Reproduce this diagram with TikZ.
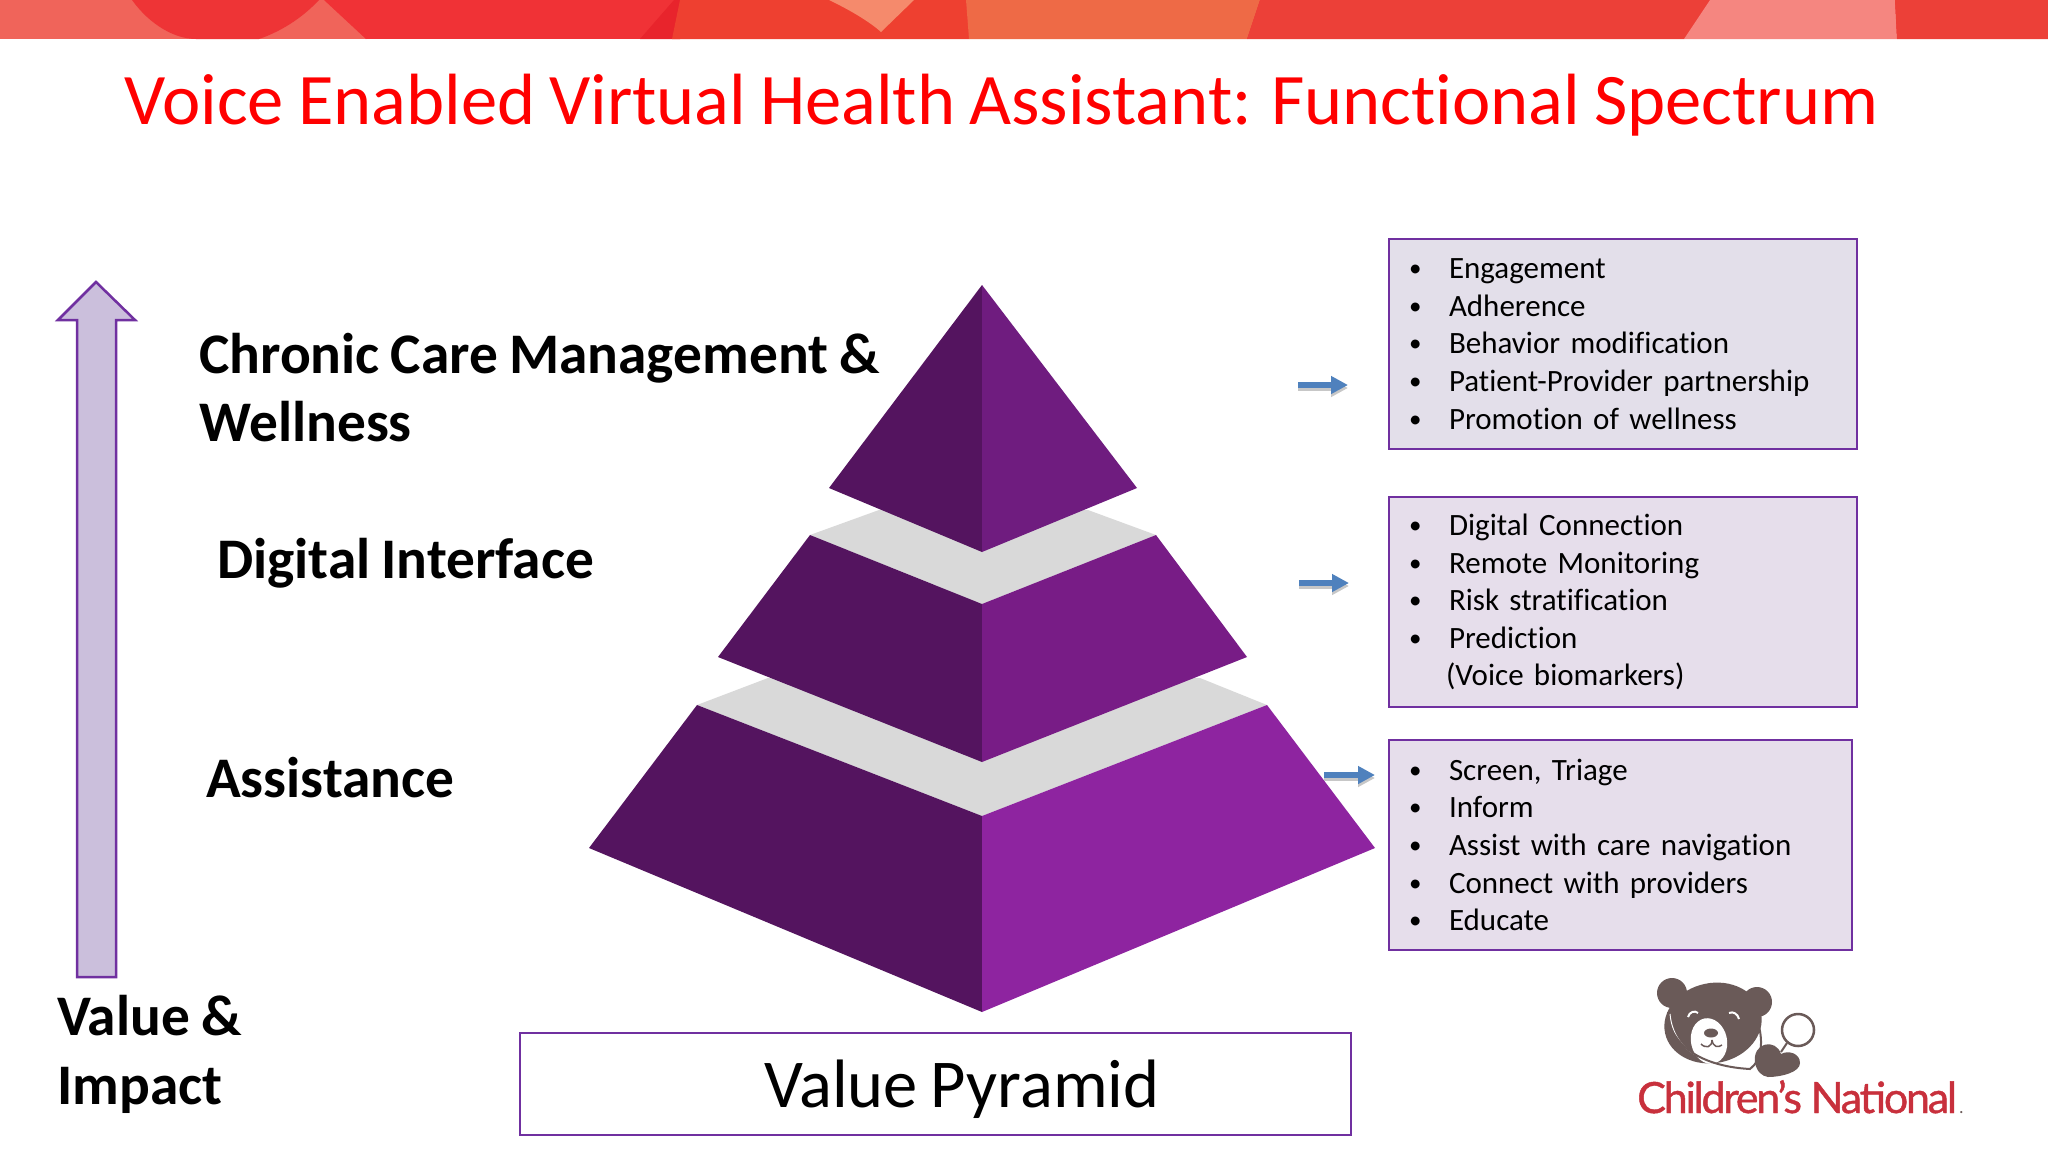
\documentclass[tikz,border=0pt]{standalone}
\usepackage{fontspec}
\setmainfont{Carlito}[Ligatures=NoCommon,WordSpace=0.85]
\newfontfamily\logofont{Lato}[FakeBold=1,LetterSpace=-5.2]
\usetikzlibrary{arrows.meta,positioning}
\definecolor{pyrborder}{HTML}{7030A0}
\definecolor{pyrdark}{HTML}{54145F}
\definecolor{pyrtop}{HTML}{6F1C7F}
\definecolor{pyrmid}{HTML}{781C86}
\definecolor{pyrlow}{HTML}{8E24A0}
\definecolor{pyrgrey}{HTML}{D9D9D9}
\definecolor{boxone}{HTML}{E3DFEA}
\definecolor{boxtwo}{HTML}{E6DEEB}
\definecolor{bigarrow}{HTML}{CBBFDC}
\definecolor{bluearrow}{HTML}{4F81BD}
\definecolor{bearbrown}{HTML}{6A5A58}
\definecolor{logored}{HTML}{C8303C}
\definecolor{titlered}{HTML}{FF0000}
\definecolor{bannerbase}{HTML}{F03236}
\definecolor{bannerlight}{HTML}{F0645A}
\definecolor{bannerround}{HTML}{EE3436}
\definecolor{bannerdeep}{HTML}{E8242C}
\definecolor{bannerwarm}{HTML}{EE4030}
\definecolor{bannerpeach}{HTML}{F58A6C}
\definecolor{bannerorange}{HTML}{EE6A46}
\definecolor{bannerplain}{HTML}{EC4038}
\definecolor{bannerpink}{HTML}{F58680}
\newcommand{\pitem}[1]{\makebox[38pt][l]{\hspace*{-2pt}\raisebox{2pt}{\fontsize{25}{25}\selectfont •}}#1}
\tikzset{
	listbox/.style={draw=pyrborder,line width=2pt,anchor=north west,minimum height=210pt,inner xsep=22pt,inner ysep=0pt,align=left,font=\fontsize{31}{37.6}\selectfont},
	biglabel/.style={anchor=base west,inner sep=0pt,font=\fontsize{57.4}{60}\selectfont\bfseries},
	smallarrow/.style={-{Triangle[length=17pt,width=17pt]},line width=6pt,bluearrow},
	arrowshadow/.style={-{Triangle[length=17pt,width=17pt]},line width=6pt,black!22},
}
\begin{document}
\begin{tikzpicture}[x=1pt,y=-1pt]
	\useasboundingbox (0,0) rectangle (2048,1152);
	\fill[white] (0,0) rectangle (2048,1152);
	\fill[bannerbase] (0,0) rectangle (2048,39);
	\fill[bannerlight] (0,0) rectangle (366,39);
	\fill[bannerround] (132,0) .. controls (150,25) and (175,39) .. (196,39) -- (259,39) .. controls (285,30) and (305,15) .. (319,0) -- cycle;
	\fill[bannerbase] (324,0) -- (366,39) -- (366,0) -- cycle;
	\fill[bannerdeep] (640,39) -- (674,0) -- (680,0) -- (680,39) -- cycle;
	\fill[bannerwarm] (672,39) -- (680,0) -- (966,0) -- (969,39) -- cycle;
	\fill[bannerpeach] (829,0) .. controls (850,10) and (870,22) .. (881,32) -- (914,0) -- cycle;
	\fill[bannerorange] (966,0) -- (969,39) -- (1247,39) -- (1260,0) -- cycle;
	\fill[bannerplain] (1260,0) -- (1247,39) -- (1684,39) -- (1710,0) -- cycle;
	\fill[bannerpink] (1710,0) -- (1684,39) -- (1897,39) -- (1895,0) -- cycle;
	\fill[bannerplain] (1895,0) -- (1897,39) -- (2048,39) -- (2048,0) -- cycle;
	\node[anchor=base west,inner sep=0pt,text=titlered,font=\fontsize{72.6}{80}\selectfont] (title) at (124,124) {Voice Enabled Virtual Health Assistant: Functional Spectrum};
	\draw[draw=pyrborder,fill=bigarrow,line width=2.5pt,line join=miter] (96,282) -- (135,320) -- (116,320) -- (116,977) -- (77,977) -- (77,320) -- (58,320) -- cycle;
	\node[biglabel] (chronic) at (199,373) {Chronic Care Management \&};
	\node[biglabel] (wellness) at (199,441) {Wellness};
	\node[biglabel] (digital) at (217,578) {Digital Interface};
	\node[biglabel] (assist) at (206,797) {Assistance};
	\node[biglabel] (value) at (57,1035) {Value \&};
	\node[biglabel] (impact) at (57,1104) {Impact};
	\fill[pyrgrey] (697,705) -- (768,678) -- (1200,678) -- (1267,705) -- (982,816) -- cycle;
	\fill[pyrdark] (697,705) -- (982,816) -- (982,1012) -- (589,848) -- cycle;
	\fill[pyrlow] (1267,705) -- (982,816) -- (982,1012) -- (1375,848) -- cycle;
	\fill[pyrgrey] (810,535) -- (879,510) -- (1088,510) -- (1156,535) -- (982,604) -- cycle;
	\fill[pyrdark] (810,535) -- (982,604) -- (982,762) -- (718,657) -- cycle;
	\fill[pyrmid] (1156,535) -- (982,604) -- (982,762) -- (1247,657) -- cycle;
	\fill[pyrdark] (982,285) -- (982,552) -- (829,488) -- cycle;
	\fill[pyrtop] (982,285) -- (982,552) -- (1137,488) -- cycle;
	\node[listbox,fill=boxone,minimum width=468pt,text width=424pt] (topbox) at (1388,238) {\pitem{Engagement}\\\pitem{Adherence}\\\pitem{Behavior modification}\\\pitem{Patient-Provider partnership}\\\pitem{Promotion of wellness}};
	\node[listbox,fill=boxtwo,minimum width=468pt,text width=424pt] (midbox) at (1388,496) {\pitem{Digital Connection}\\\pitem{Remote Monitoring}\\\pitem{Risk stratification}\\\pitem{Prediction}\\\hspace*{35pt}(Voice biomarkers)};
	\node[listbox,fill=boxtwo,minimum width=463pt,text width=419pt] (lowbox) at (1388,739) {\pitem{Screen, Triage}\\\pitem{Inform}\\\pitem{Assist with care navigation}\\\pitem{Connect with providers}\\\pitem{Educate}};
	\coordinate (topa) at (1298,385);
	\coordinate (topb) at (1348,385);
	\coordinate (mida) at (1299,583);
	\coordinate (midb) at (1349,583);
	\coordinate (lowa) at (1324,775);
	\coordinate (lowb) at (1375,775);
	\draw[arrowshadow,transform canvas={yshift=-3pt}] (topa) -- (topb);
	\draw[arrowshadow,transform canvas={yshift=-3pt}] (mida) -- (midb);
	\draw[arrowshadow,transform canvas={yshift=-3pt}] (lowa) -- (lowb);
	\draw[smallarrow] (topa) -- (topb);
	\draw[smallarrow] (mida) -- (midb);
	\draw[smallarrow] (lowa) -- (lowb);
	\node[draw=pyrborder,line width=2pt,anchor=north west,minimum width=831pt,minimum height=102pt,inner sep=0pt] (valuebox) at (519,1032) {};
	\node[anchor=base west,inner sep=0pt,font=\fontsize{68.5}{70}\selectfont] (valuetext) at (764,1107) {Value Pyramid};
	\fill[bearbrown] (1672,993) circle (15);
	\fill[bearbrown] (1757,1002) circle (15);
	\fill[bearbrown,rotate around={12:(1713,1023)}] (1713,1023) ellipse (49 and 40);
	\fill[white,rotate around={12:(1709,1041)}] (1709,1041) ellipse (18 and 23);
	\fill[bearbrown] (1711,1033) ellipse (7 and 4.5);
	\draw[bearbrown,line width=1.5pt] (1701,1044) .. controls (1706,1049) and (1712,1047) .. (1712,1040);
	\draw[bearbrown,line width=1.5pt] (1712,1040) .. controls (1713,1047) and (1718,1048) .. (1722,1045);
	\draw[white,line width=2pt] (1688,1017) .. controls (1689,1012) and (1695,1010) .. (1698,1013);
	\draw[white,line width=2pt] (1729,1013) .. controls (1733,1011) and (1738,1014) .. (1739,1019);
	\draw[white,line width=1pt] (1670,1014) .. controls (1672,1036) and (1684,1048) .. (1694,1054);
	\draw[bearbrown,line width=2pt] (1668,1012) .. controls (1668,1040) and (1695,1066) .. (1750,1069) .. controls (1762,1060) and (1764,1040) .. (1757,1020);
	\draw[bearbrown,line width=2.5pt] (1798,1030) circle (16);
	\draw[bearbrown,line width=2pt] (1787,1043) -- (1781,1052);
	\fill[bearbrown] (1781,1054) .. controls (1776,1038) and (1752,1042) .. (1755,1063) .. controls (1757,1072) and (1762,1076) .. (1768,1077) .. controls (1782,1077) and (1800,1072) .. (1800,1063) .. controls (1800,1053) and (1788,1050) .. (1781,1054) -- cycle;
	\node[anchor=base west,inner sep=0pt,text=logored,font=\logofont\fontsize{43}{48}\selectfont] (logotext) at (1637,1113) {Children’s National};
	\node[anchor=base west,inner sep=0pt,text=bearbrown,font=\fontsize{18}{18}\selectfont] (logodot) at (1959,1113) {.};
\end{tikzpicture}
\end{document}
